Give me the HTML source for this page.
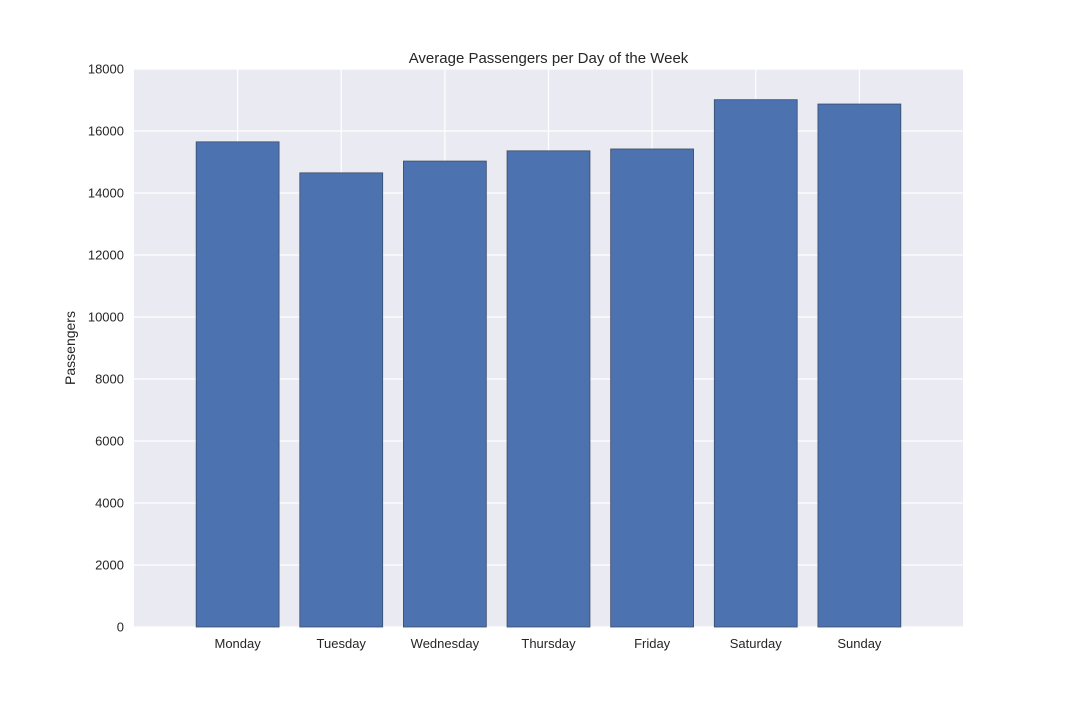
<!DOCTYPE html>
<html><head><meta charset="utf-8"><style>
body{margin:0;background:#fff;font-family:"Liberation Sans","DejaVu Sans",sans-serif;}
svg text{font-family:"Liberation Sans","DejaVu Sans",sans-serif;fill:#262626;}
</style></head><body>
<svg id="chart" width="1070" height="697" xmlns="http://www.w3.org/2000/svg">
<rect x="134" y="69" width="829" height="558" fill="#EAEAF2"/>
<g id="grid"></g><g id="bars"></g><g id="labels"></g>
<text x="548.5" y="63" text-anchor="middle" font-size="15">Average Passengers per Day of the Week</text>
<text transform="translate(75,348) rotate(-90)" text-anchor="middle" font-size="14">Passengers</text>
</svg>
<script>
const categories=["Monday","Tuesday","Wednesday","Thursday","Friday","Saturday","Sunday"];
const values=[15650,14650,15030,15360,15420,17010,16870];
const yTicks=[0,2000,4000,6000,8000,10000,12000,14000,16000,18000];
const NS="http://www.w3.org/2000/svg";
const L=134,R=963,T=69,B=627,yMax=18000;
const xs=i=>L+(i+1)*(R-L)/8;
const ys=v=>B-v/yMax*(B-T);
const bw=0.8*(R-L)/8;
function mk(t,a,p){const e=document.createElementNS(NS,t);for(const k in a)e.setAttribute(k,a[k]);p.appendChild(e);return e;}
const g=document.getElementById('grid'),b=document.getElementById('bars'),lb=document.getElementById('labels');
yTicks.forEach(v=>{
 const l=mk('line',{x1:L,x2:R,y1:ys(v),y2:ys(v),stroke:'#fff','stroke-width':1.2},g);
 
 
 const t=mk('text',{x:L-10,y:ys(v)+4.5,'text-anchor':'end','font-size':13},lb);
 t.textContent=v;
 
 
});
categories.forEach((c,i)=>{
 const l=mk('line',{x1:xs(i),x2:xs(i),y1:T,y2:B,stroke:'#fff','stroke-width':1.2},g);
 
 
 const r=mk('rect',{x:xs(i)-bw/2,y:ys(values[i]),width:bw,height:B-ys(values[i]),fill:'#4C72B0',stroke:'#3a4a66','stroke-width':0.8},b);
 
 
 const t=mk('text',{x:xs(i),y:B+21,'text-anchor':'middle','font-size':13},lb);
 t.textContent=c;
 
 
});
</script>
</body></html>
